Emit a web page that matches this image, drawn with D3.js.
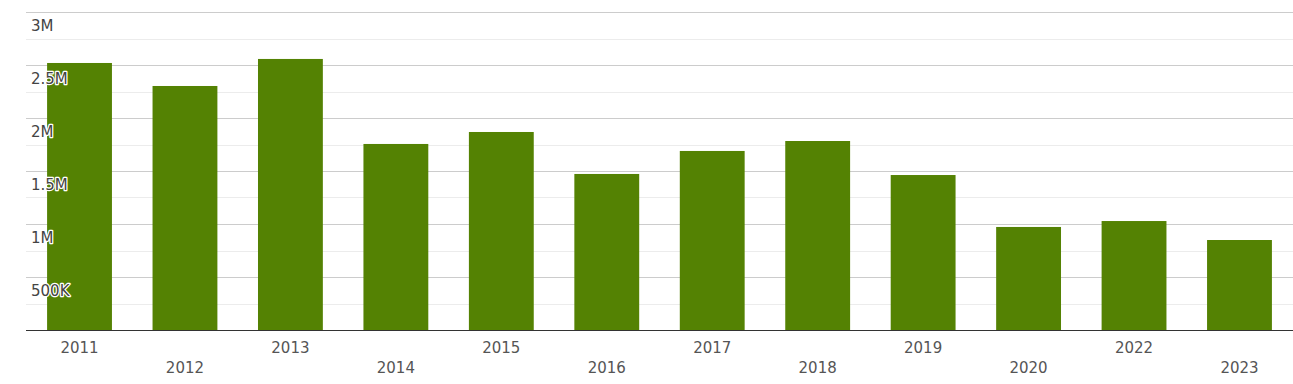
<!DOCTYPE html>
<html>
<head>
<meta charset="utf-8">
<script src="https://cdn.jsdelivr.net/npm/d3@7"></script>
<style>
  body { margin: 0; background: #fff; }
  text { font-family: "DejaVu Sans", sans-serif; }
</style>
</head>
<body>
<div id="chart"></div>
<script>
// values
var years = ["2011", "2012", "2013", "2014", "2015", "2016", "2017", "2018", "2019", "2020", "2022", "2023"];
var values = [2519000, 2302000, 2557000, 1755000, 1868000, 1472000, 1689000, 1783000, 1462000, 972000, 1028000, 849000];
var majorTicks = [0, 500000, 1000000, 1500000, 2000000, 2500000, 3000000];
var tickLabels = ["", "500K", "1M", "1.5M", "2M", "2.5M", "3M"];
var minorTicks = [250000, 750000, 1250000, 1750000, 2250000, 2750000];

var width = 1293, height = 384;
var plotLeft = 26, plotRight = 1293, plotTop = 12, plotBottom = 330;

var svg = d3.select("#chart")
  .append("svg")
    .attr("width", width)
    .attr("height", height);

var x = d3.scaleBand()
  .domain(years)
  .range([plotLeft, plotRight])
  .paddingInner(0.385)
  .paddingOuter(0.2);

var y = d3.scaleLinear()
  .domain([0, 3000000])
  .range([plotBottom, plotTop]);

// minor grid
svg.append("g")
  .selectAll("line")
  .data(minorTicks)
  .join("line")
    .attr("x1", plotLeft)
    .attr("x2", plotRight)
    .attr("y1", d => Math.round(y(d)) + 0.5)
    .attr("y2", d => Math.round(y(d)) + 0.5)
    .attr("stroke", "#ececec")
    .attr("stroke-width", 1);

// major grid
svg.append("g")
  .selectAll("line")
  .data(majorTicks.slice(1))
  .join("line")
    .attr("x1", plotLeft)
    .attr("x2", plotRight)
    .attr("y1", d => Math.round(y(d)) + 0.5)
    .attr("y2", d => Math.round(y(d)) + 0.5)
    .attr("stroke", "#cccccc")
    .attr("stroke-width", 1);

// bars
svg.append("g")
  .selectAll("rect")
  .data(values)
  .join("rect")
    .attr("x", (d, i) => x(years[i]))
    .attr("y", d => y(d))
    .attr("width", x.bandwidth())
    .attr("height", d => y(0) - y(d))
    .attr("fill", "#548203");

// baseline
svg.append("line")
  .attr("x1", plotLeft)
  .attr("x2", plotRight)
  .attr("y1", y(0) + 0.5)
  .attr("y2", y(0) + 0.5)
  .attr("stroke", "#333")
  .attr("stroke-width", 1);

// y labels, with white halo
svg.append("g")
  .selectAll("text")
  .data(majorTicks.slice(1))
  .join("text")
    .attr("x", 31)
    .attr("y", d => y(d) + 19)
    .attr("font-size", 15)
    .attr("fill", "#444")
    .attr("stroke", "#fff")
    .attr("stroke-width", 2.5)
    .attr("paint-order", "stroke")
    .attr("stroke-linejoin", "round")
    .text((d, i) => tickLabels[i + 1]);

// x labels, staggered
svg.append("g")
  .selectAll("text")
  .data(years)
  .join("text")
    .attr("x", d => x(d) + x.bandwidth() / 2)
    .attr("y", (d, i) => i % 2 === 0 ? 353 : 373)
    .attr("text-anchor", "middle")
    .attr("font-size", 15)
    .attr("fill", "#555")
    .text(d => d);
</script>
</body>
</html>
